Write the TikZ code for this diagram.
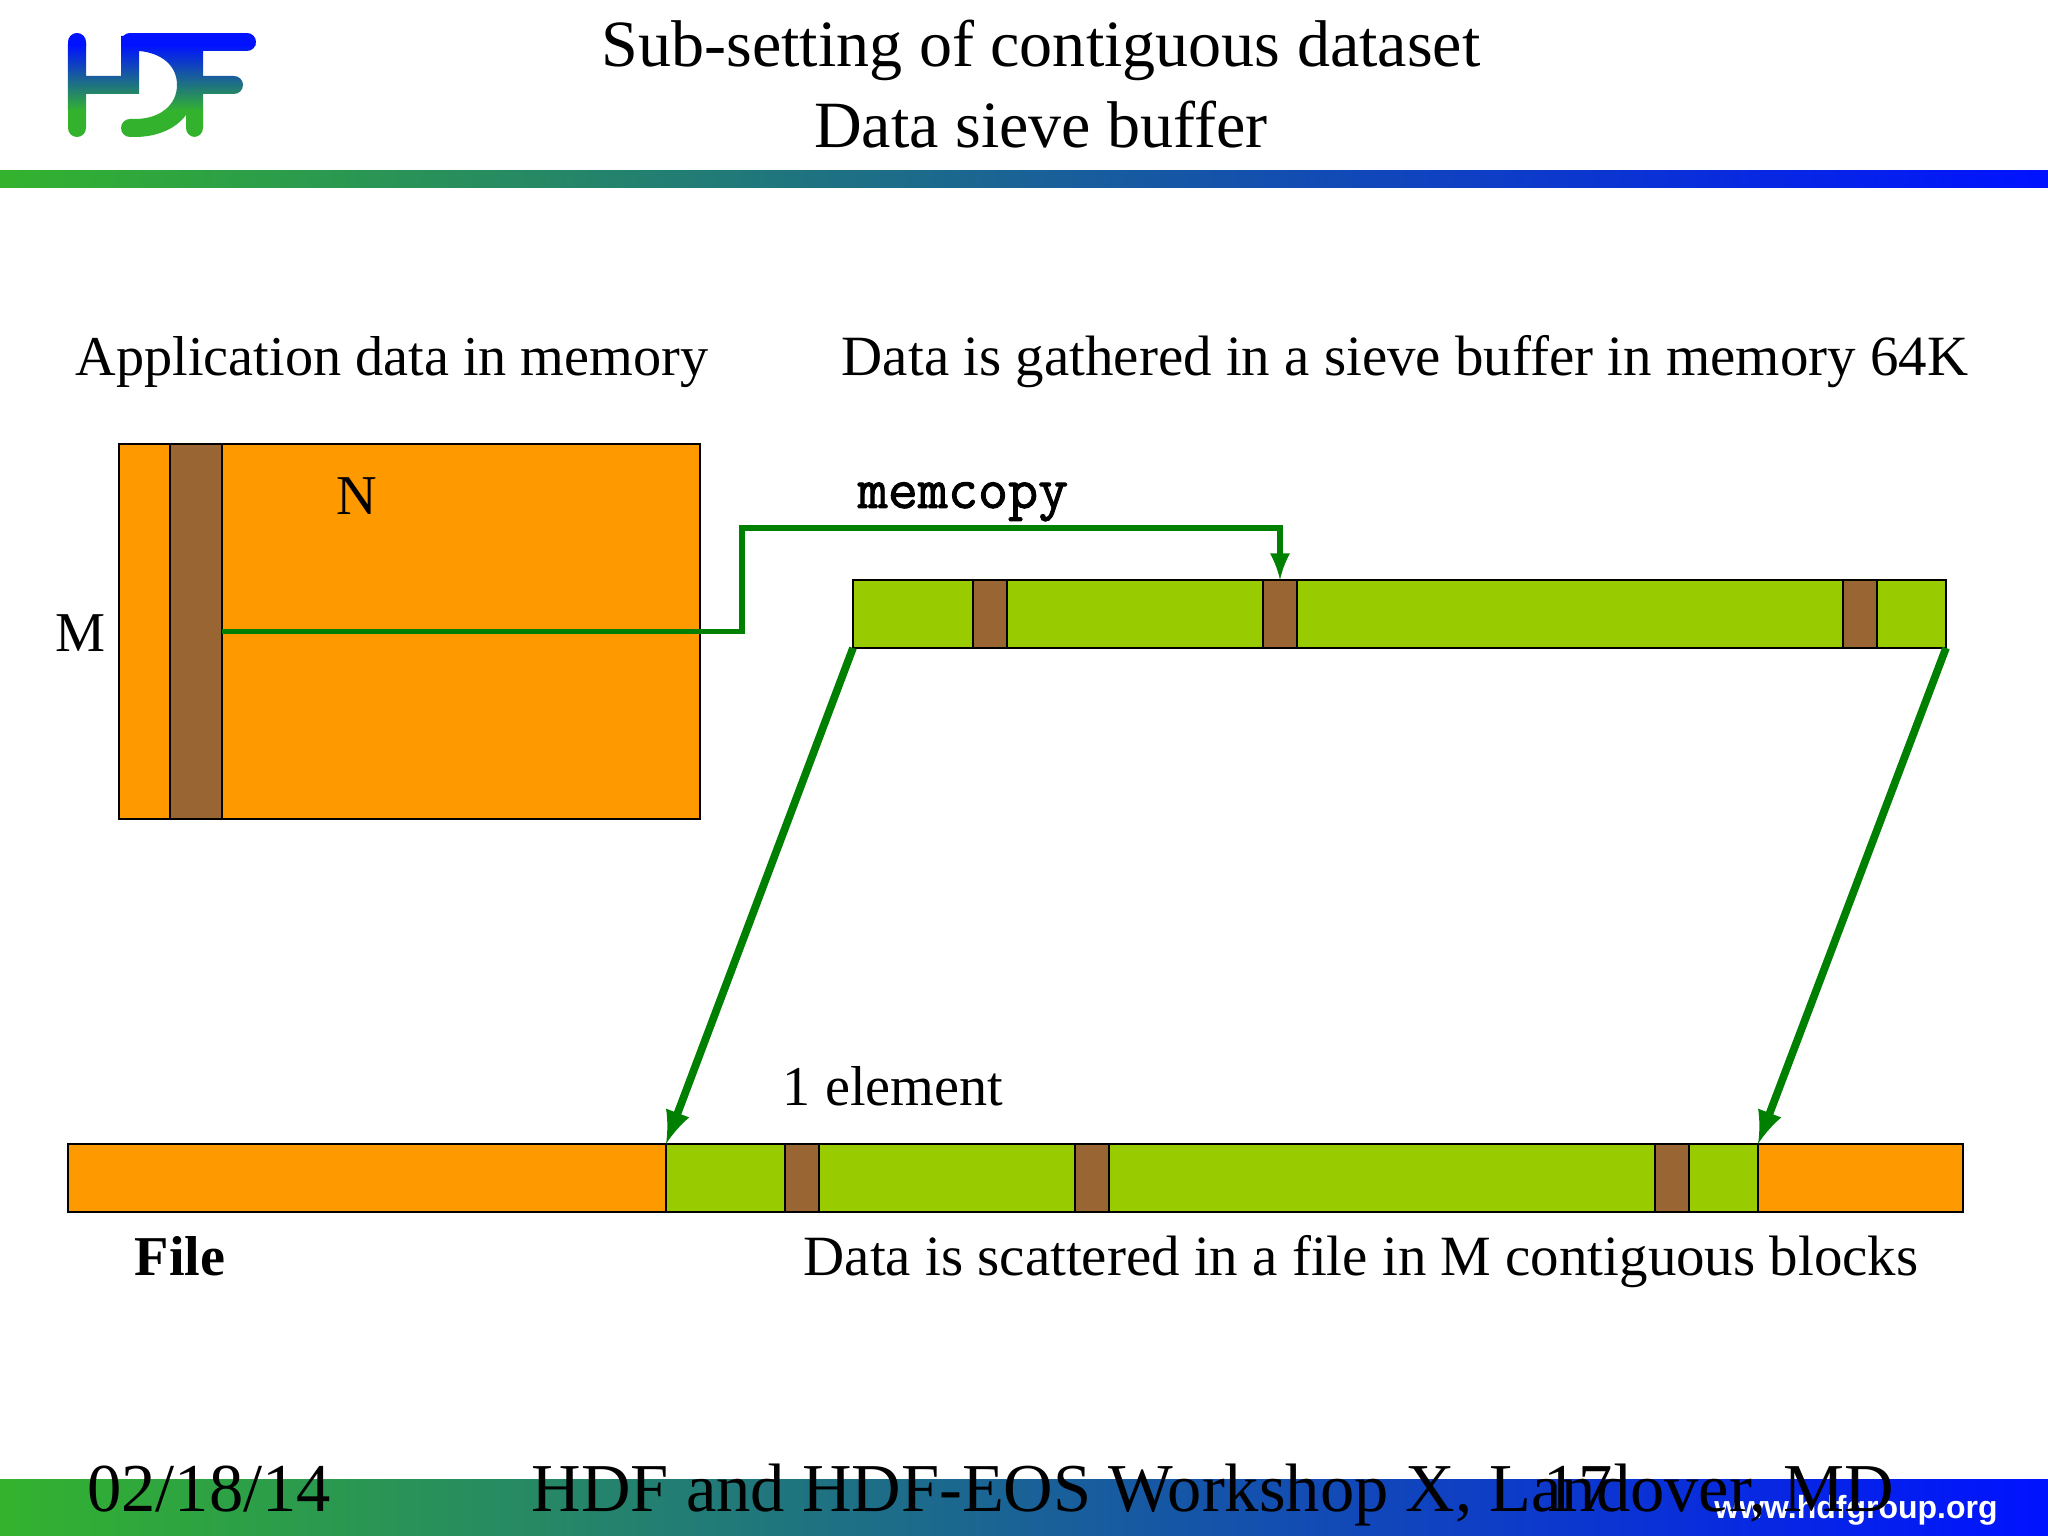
\documentclass[tikz,border=0pt]{standalone}
\usepackage{fontspec}
\setmainfont{Liberation Serif}
\newfontfamily\wwwfont{Liberation Sans}
\newfontfamily\copyfont[FakeBold=1.6]{Latin Modern Mono}
\usepackage{xcolor}
\usetikzlibrary{positioning,arrows,calc}
\definecolor{blockorange}{HTML}{FF9900}
\definecolor{bufgreen}{HTML}{99CC00}
\definecolor{elembrown}{HTML}{996633}
\definecolor{copygreen}{HTML}{008000}
\definecolor{barleft}{rgb}{0.20,0.70,0.18}
\definecolor{barright}{rgb}{0.00,0.07,1.00}
\tikzset{
  blk/.style={draw=black,line width=0.55pt,inner sep=0pt,outer sep=0pt},
  txt/.style={anchor=base,inner sep=0pt,font=\fontsize{16}{19}\selectfont},
  widetxt/.style={anchor=base,inner sep=0pt,font=\fontsize{16.2}{19}\selectfont},
  headtxt/.style={anchor=base,inner sep=0pt,font=\fontsize{18.8}{22}\selectfont},
  foottxt/.style={anchor=base,inner sep=0pt,font=\fontsize{19.5}{23}\selectfont},
  copyline/.style={->,>=latex,draw=copygreen,line width=1.6pt},
  mapline/.style={->,>=latex,draw=copygreen,line width=2.2pt}
}
\begin{document}
\begin{tikzpicture}
           \useasboundingbox (0,0) rectangle (20.48,15.36);
           \shade[left color=barleft,right color=barright] (0,13.48) rectangle (20.48,13.65); %top bar
           \shade[left color=barleft,right color=barright] (0,0) rectangle (20.48,0.56); %bottom bar

           %logo
           \begin{scope}
             \clip[rounded corners=0.09cm] (0.68,15.03) rectangle (0.86,13.99)
               (1.21,15.03) rectangle (2.56,14.85)
               (1.86,15.03) rectangle (2.03,13.99)
               (1.86,14.60) rectangle (2.43,14.42)
               [sharp corners] (0.70,14.60) rectangle (1.39,14.42)
               (1.21,15.00) rectangle (1.39,14.42)
               (1.39,14.85) .. controls (1.62,14.83) and (1.77,14.70) .. (1.77,14.51)
               .. controls (1.77,14.31) and (1.60,14.17) .. (1.35,14.17)
               -- (1.30,14.17) arc (90:270:0.09) -- (1.35,13.99)
               .. controls (1.55,13.99) and (1.75,14.06) .. (1.86,14.21)
               -- (1.86,14.85) -- cycle;
             \fill[barright] (0.68,14.90) rectangle (2.56,15.03);
             \shade[top color=barright,bottom color=barleft] (0.68,14.25) rectangle (2.56,14.91);
             \fill[barleft] (0.68,13.99) rectangle (2.56,14.26);
           \end{scope}

           \node[headtxt] (titleA) at (10.41,14.69) {Sub-setting of contiguous dataset};
           \node[headtxt] (titleB) at (10.41,13.88) {Data sieve buffer};

           \node[txt] (memtxt) at (3.92,11.60) {Application data in memory};
           \node[widetxt] (sievetxt) at (14.05,11.60) {Data is gathered in a sieve buffer in memory 64K};

           %memory
           \node[blk,fill=blockorange,minimum width=5.81cm,minimum height=3.75cm] (memblock) at (4.095,9.045) {};
           \node[blk,fill=elembrown,minimum width=0.52cm,minimum height=3.75cm] (memcol) at (1.96,9.045) {};
           \node[txt] (labelN) at (3.57,10.21) {N};
           \node[txt] (labelM) at (0.80,8.84) {M};

           %sieve buffer
           \node[blk,fill=bufgreen,minimum width=10.93cm,minimum height=0.68cm] (sieve) at (13.995,9.22) {};
           \node[blk,fill=elembrown,minimum width=0.34cm,minimum height=0.68cm] (sieveA) at (9.90,9.22) {};
           \node[blk,fill=elembrown,minimum width=0.34cm,minimum height=0.68cm] (sieveB) at (12.80,9.22) {};
           \node[blk,fill=elembrown,minimum width=0.34cm,minimum height=0.68cm] (sieveC) at (18.60,9.22) {};

           %file
           \node[blk,fill=blockorange,minimum width=18.95cm,minimum height=0.68cm] (file) at (10.155,3.58) {};
           \node[blk,fill=bufgreen,minimum width=10.92cm,minimum height=0.68cm] (filegreen) at (12.12,3.58) {};
           \node[blk,fill=elembrown,minimum width=0.34cm,minimum height=0.68cm] (fileA) at (8.02,3.58) {};
           \node[blk,fill=elembrown,minimum width=0.34cm,minimum height=0.68cm] (fileB) at (10.92,3.58) {};
           \node[blk,fill=elembrown,minimum width=0.34cm,minimum height=0.68cm] (fileC) at (16.72,3.58) {};

           \node[txt,font=\fontsize{16.6}{20}\copyfont] (copytxt) at (9.63,10.28) {memcopy};
           \node[txt] (elemtxt) at (8.93,4.30) {1 element};
           \node[txt,font=\fontsize{16}{19}\selectfont\bfseries] (filetxt) at (1.80,2.60) {File};
           \node[widetxt] (scattxt) at (13.61,2.60) {Data is scattered in a file in M contiguous blocks};

           \coordinate (bend) at (7.42,10.08);
           \draw[copyline] (memcol.east) -| (bend) -| (sieveB.north);
           \draw[mapline] (sieve.south west) -- (filegreen.north west);
           \draw[mapline] (sieve.south east) -- (filegreen.north east);

           %footer
           \node[anchor=base,inner sep=0pt,text=white,font=\fontsize{9.1}{11}\wwwfont\bfseries] (www) at (18.56,0.17) {www.hdfgroup.org};
           \node[foottxt] (date) at (2.09,0.24) {02/18/14};
           \node[foottxt] (workshop) at (12.13,0.24) {HDF and HDF-EOS Workshop X, Landover, MD};
           \node[foottxt] (pagenum) at (15.78,0.24) {17};
\end{tikzpicture}
\end{document}
